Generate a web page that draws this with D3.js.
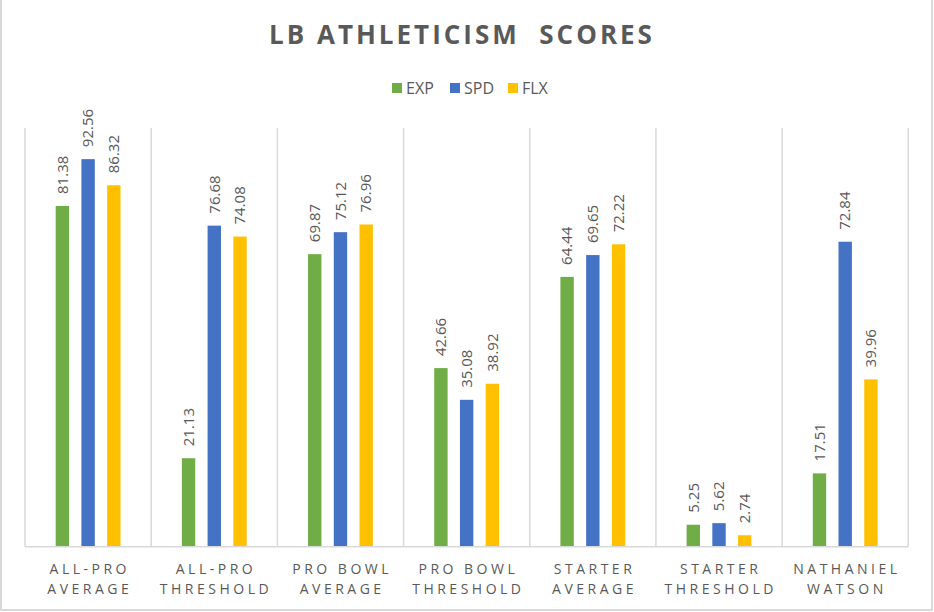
<!DOCTYPE html>
<html>
<head>
<meta charset="utf-8">
<script src="https://cdn.jsdelivr.net/npm/d3@7"></script>
<style>
  body { margin: 0; background: #fff; }
  text { font-family: "Open Sans", sans-serif; }
</style>
</head>
<body>
<svg id="chart" width="934" height="612"></svg>
<script>
const categories = [
    ['ALL-PRO', 'AVERAGE'],
    ['ALL-PRO', 'THRESHOLD'],
    ['PRO BOWL', 'AVERAGE'],
    ['PRO BOWL', 'THRESHOLD'],
    ['STARTER', 'AVERAGE'],
    ['STARTER', 'THRESHOLD'],
    ['NATHANIEL', 'WATSON'],
];
const seriesNames = ['EXP', 'SPD', 'FLX'];
const seriesColors = ['#70ad47', '#4472c4', '#ffc000'];
const expValues = [81.38, 21.13, 69.87, 42.66, 64.44, 5.25, 17.51];
const spdValues = [92.56, 76.68, 75.12, 35.08, 69.65, 5.62, 72.84];
const flxValues = [86.32, 74.08, 76.96, 38.92, 72.22, 2.74, 39.96];
const yDomain = [0, 100];

const width = 934;
const height = 612;
const margin = { top: 128, right: 25, bottom: 65, left: 25 };
const GRID = '#d9d9d9';
const TEXT = '#595959';

const svg = d3.select('#chart');
const values = [expValues, spdValues, flxValues];
const keys = categories.map(c => c.join(' '));

const rows = keys.map((k, i) => ({
    key: k,
    lines: categories[i],
    vals: seriesNames.map((s, j) => ({ series: s, value: values[j][i], color: seriesColors[j] })),
}));

const x0 = d3.scaleBand().domain(keys).range([margin.left, width - margin.right - 0.7]).padding(0);
const bw = x0.bandwidth();
const x1 = d3.scaleBand().domain(seriesNames).range([24.5, bw - 24.5]).paddingInner(0.48).paddingOuter(0.24);
const y = d3.scaleLinear().domain(yDomain).range([height - margin.bottom - 0.3, margin.top]);

// outer border
svg.append('rect')
    .attr('x', 1).attr('y', -5)
    .attr('width', 931).attr('height', 615)
    .attr('fill', 'none').attr('stroke', GRID).attr('stroke-width', 2);

// title
svg.append('text')
    .attr('x', 462).attr('y', 44)
    .attr('text-anchor', 'middle')
    .attr('fill', TEXT)
    .style('font-size', '26px').style('font-weight', 'bold').style('letter-spacing', '3px')
    .style('white-space', 'pre')
    .text('LB ATHLETICISM  SCORES');

// legend
const legend = svg.append('g').attr('class', 'legend');
const legendX = [392, 450, 508];
seriesNames.forEach((s, i) => {
    const g = legend.append('g').attr('transform', `translate(${legendX[i]}, 83)`);
    g.append('rect').attr('width', 10).attr('height', 10).attr('fill', seriesColors[i]);
    g.append('text').attr('x', 14).attr('y', 10.5).attr('fill', TEXT)
        .style('font-size', '16px').text(s);
});

// vertical gridlines at category boundaries
const bounds = keys.map(k => x0(k)).concat([x0(keys[keys.length - 1]) + bw]);
svg.append('g').attr('class', 'grid')
    .selectAll('line').data(bounds).join('line')
    .attr('x1', d => d).attr('x2', d => d)
    .attr('y1', y(yDomain[1])).attr('y2', y(0))
    .attr('stroke', GRID).attr('stroke-width', 1.5);

// bars
const groups = svg.append('g').attr('class', 'bars')
    .selectAll('g').data(rows).join('g')
    .attr('transform', d => `translate(${x0(d.key)}, 0)`);

groups.selectAll('rect').data(d => d.vals).join('rect')
    .attr('x', d => x1(d.series))
    .attr('width', x1.bandwidth())
    .attr('y', d => y(d.value))
    .attr('height', d => y(0) - y(d.value))
    .attr('fill', d => d.color);

groups.selectAll('text.value').data(d => d.vals).join('text')
    .attr('class', 'value')
    .attr('transform', d => `translate(${x1(d.series) + x1.bandwidth() / 2}, ${y(d.value) - 12}) rotate(-90)`)
    .attr('dy', '0.35em')
    .attr('fill', TEXT)
    .style('font-size', '15px')
    .text(d => d.value.toFixed(2));

// baseline
svg.append('line')
    .attr('x1', margin.left).attr('x2', bounds[bounds.length - 1])
    .attr('y1', y(0)).attr('y2', y(0))
    .attr('stroke', GRID).attr('stroke-width', 1.5);

// category labels
const xAxis = svg.append('g').attr('class', 'axis axis--x');
rows.forEach(r => {
    const cx = x0(r.key) + bw / 2 + 1.7;
    const t = xAxis.append('text')
        .attr('x', cx)
        .attr('y', 573.5)
        .attr('text-anchor', 'middle')
        .attr('fill', TEXT)
        .style('font-size', '14px').style('letter-spacing', '3.5px');
    r.lines.forEach((line, i) => {
        t.append('tspan')
            .attr('x', cx)
            .attr('dy', i === 0 ? 0 : 20)
            .text(line);
    });
});
</script>
</body>
</html>
